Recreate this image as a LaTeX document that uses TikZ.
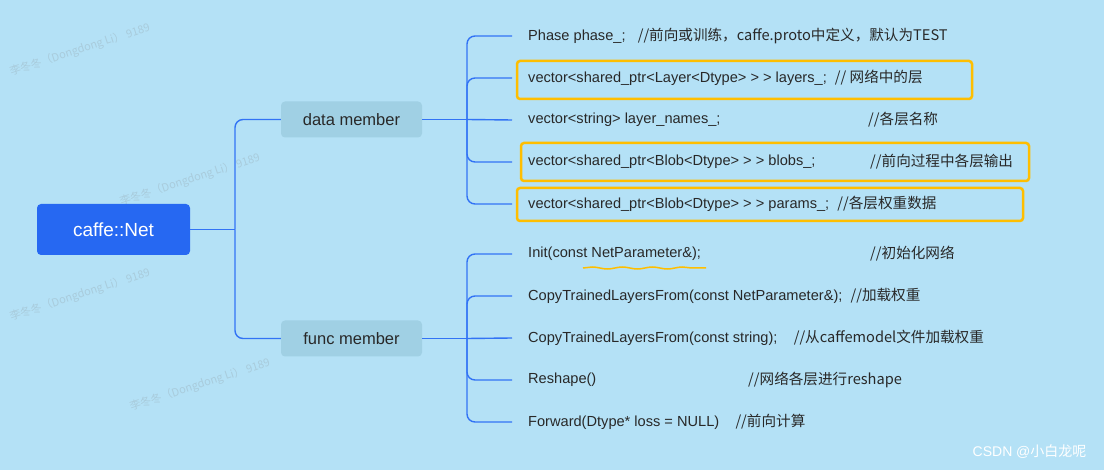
\documentclass[tikz,border=0pt]{standalone}
\usepackage{fontspec}
\setmainfont{Liberation Sans}
\newfontfamily\cjk{Noto Sans CJK SC}
\usetikzlibrary{decorations.pathmorphing}
\definecolor{bg}{RGB}{180,225,246}
\definecolor{rootc}{RGB}{38,104,242}
\definecolor{midc}{RGB}{160,208,228}
\definecolor{linec}{RGB}{50,115,245}
\definecolor{orng}{RGB}{255,190,0}
\definecolor{txt}{RGB}{40,40,40}
\begin{document}
\begin{tikzpicture}[x=1pt,y=-1pt,
  conn/.style={draw=linec,line width=1.4pt,rounded corners=8pt},
  mid/.style={fill=midc,rounded corners=4pt,minimum width=141pt,minimum height=36pt,font=\fontsize{16.5}{16}\selectfont,text=txt},
  leaf/.style={anchor=west,inner sep=0pt,font=\fontsize{14.6}{15}\selectfont,text=txt},
  hl/.style={draw=orng,line width=2.5pt,rounded corners=3pt},
  wm/.style={text=gray,opacity=0.22,rotate=18,font=\fontsize{11}{12}\selectfont}]
\fill[bg] (0,0) rectangle (1104,470);
\useasboundingbox (0,0) rectangle (1104,470);
\node[wm] (w1) at (80,50) {\cjk 李冬冬（Dongdong Li） 9189};
\node[wm] (w2) at (190,180) {\cjk 李冬冬（Dongdong Li） 9189};
\node[wm] (w3) at (80,295) {\cjk 李冬冬（Dongdong Li） 9189};
\node[wm] (w4) at (200,385) {\cjk 李冬冬（Dongdong Li） 9189};
\node[fill=rootc,rounded corners=4pt,minimum width=153pt,minimum height=51pt,text=white,font=\fontsize{19}{19}\selectfont] (root) at (113.5,229.5) {caffe::Net};
\node[mid] (dm) at (351.5,119.5) {data member};
\node[mid] (fm) at (351.5,338.5) {func member};
\coordinate (rj) at (235,229.5);
\coordinate (dj) at (467,119.5);
\coordinate (fj) at (467,338.5);
\draw[conn] (root.east) -- (rj);
\draw[conn] (rj) |- (dm.west);
\draw[conn] (rj) |- (fm.west);
\draw[conn] (dm.east) -- (dj);
\draw[conn] (fm.east) -- (fj);
\foreach \n/\y in {d1/36,d2/78,d3/120,d4/162,d5/204} \coordinate (\n) at (512,\y);
\foreach \n/\y in {f1/254,f2/296,f3/338,f4/380,f5/422} \coordinate (\n) at (512,\y);
\foreach \n in {d1,d2,d4,d5} \draw[conn] (dj) |- (\n);
\draw[conn] (dj) -- (d3);
\foreach \n in {f1,f2,f4,f5} \draw[conn] (fj) |- (\n);
\draw[conn] (fj) -- (f3);
\node[leaf] (t1) at (528,36) {Phase phase\_;\ \ \ {\cjk //前向或训练，caffe.proto中定义，默认为TEST}};
\node[leaf] (t2) at (528,78) {vector<shared\_ptr<Layer<Dtype> > > layers\_;\ \ {\cjk // 网络中的层}};
\node[leaf] (t3) at (528,120) {vector<string> layer\_names\_;};
\node[leaf] (c3) at (868,120) {\cjk //各层名称};
\node[leaf] (t4) at (528,162) {vector<shared\_ptr<Blob<Dtype> > > blobs\_;};
\node[leaf] (c4) at (870,162) {\cjk //前向过程中各层输出};
\node[leaf] (t5) at (528,204) {vector<shared\_ptr<Blob<Dtype> > > params\_;\ \ {\cjk //各层权重数据}};
\node[leaf] (u1) at (528,254) {Init(const NetParameter\&);};
\node[leaf] (cu1) at (870,254) {\cjk //初始化网络};
\node[leaf] (u2) at (528,296) {CopyTrainedLayersFrom(const NetParameter\&);\ \ {\cjk //加载权重}};
\node[leaf] (u3) at (528,338) {CopyTrainedLayersFrom(const string);\ \ \ \ {\cjk //从caffemodel文件加载权重}};
\node[leaf] (u4) at (528,380) {Reshape()};
\node[leaf] (cu4) at (748,380) {\cjk //网络各层进行reshape};
\node[leaf] (u5) at (528,422) {Forward(Dtype* loss = NULL)\ \ \ \ {\cjk //前向计算}};
\draw[hl] (517,61) rectangle (972,99);
\draw[hl] (521,143) rectangle (1029,181);
\draw[hl] (517,188) rectangle (1023,221);
\draw[orng,line width=1.5pt,decorate,decoration={snake,amplitude=1pt,segment length=30pt}] (583,268) -- (706,268);
\node[anchor=east,text=white,font=\fontsize{14}{14}\selectfont] (csdn) at (1090,452) {CSDN @{\cjk 小白龙呢}};
\end{tikzpicture}
\end{document}
